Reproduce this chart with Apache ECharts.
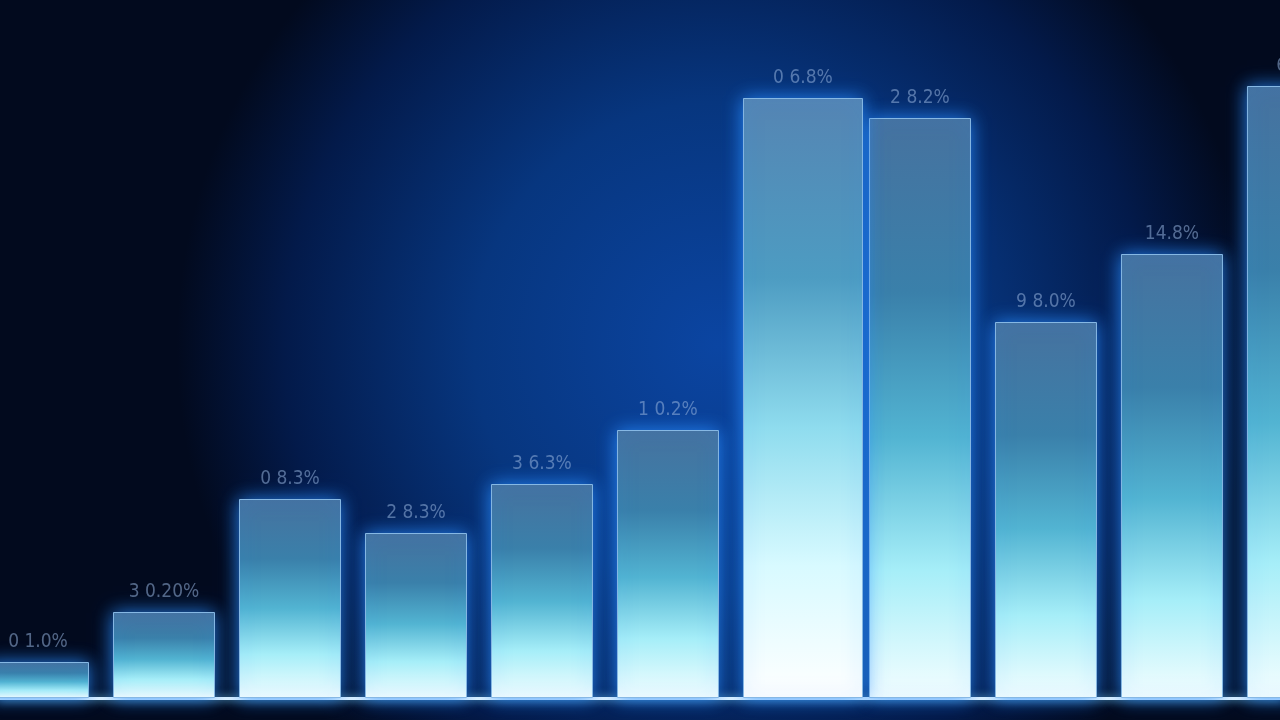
<!DOCTYPE html>
<html><head><meta charset="utf-8">
<script src="https://cdn.jsdelivr.net/npm/echarts@6/dist/echarts.min.js"></script>
<style>html,body{margin:0;padding:0;background:#020a1c}#c{width:1280px;height:720px}</style>
</head><body><div id="c"></div>
<script>
const categories = [0,1,2,3,4,5,6,7,8,9,10];
const values = [3.6, 8.6, 19.9, 16.5, 21.4, 26.8, 60.0, 58.0, 37.6, 44.4, 61.2];
const labels = ['0 1.0%', '3 0.20%', '0 8.3%', '2 8.3%', '3 6.3%', '1 0.2%', '0 6.8%', '2 8.2%', '9 8.0%', '14.8%', '6.6.2'];
const wideIndex = 6;

const chart = echarts.init(document.getElementById('c'));
const grad = (c)=>new echarts.graphic.LinearGradient(0,0,0,1,c);
const barGrad = grad([
  {offset:0,color:'#46729f'},{offset:0.3,color:'#3a80aa'},{offset:0.55,color:'#52b4d2'},{offset:0.78,color:'#a6eef8'},{offset:1,color:'#f4feff'}]);
const wideGrad = grad([
  {offset:0,color:'#5585b3'},{offset:0.3,color:'#4d9cc2'},{offset:0.55,color:'#8fdcee'},{offset:0.78,color:'#d8faff'},{offset:1,color:'#ffffff'}]);
const common = {
  type:'bar',barGap:'-100%',clip:false,
  itemStyle:{borderColor:'#86b8e4',borderWidth:1,shadowColor:'rgba(40,140,255,0.9)',shadowBlur:18},
  label:{show:true,position:'top',distance:10,color:'rgba(150,178,220,0.55)',fontSize:19,
    fontFamily:'DejaVu Sans Condensed, Liberation Sans Narrow, sans-serif',formatter:p=>labels[p.dataIndex]}
};
chart.setOption({
  backgroundColor:{type:'radial',x:0.56,y:0.48,r:0.75,colorStops:[
    {offset:0,color:'#0b45a2'},{offset:0.45,color:'#07367f'},{offset:0.8,color:'#031a4a'},{offset:1,color:'#020a1e'}]},
  grid:{left:0,right:0,top:0,bottom:22},
  xAxis:{type:'value',min:-0.373,max:9.786,axisLabel:{show:false},axisTick:{show:false},splitLine:{show:false},
    axisLine:{show:true,onZero:true,lineStyle:{color:'#e8f8ff',width:3,shadowColor:'#7fd8ff',shadowBlur:8}}},
  yAxis:{type:'value',min:0,max:69.8,show:false,splitLine:{show:false}},
  series:[
    Object.assign({},common,{barWidth:102,
      data:values.map((v,i)=>i===wideIndex?[categories[i],null]:[categories[i],v]),
      itemStyle:Object.assign({},common.itemStyle,{color:barGrad})}),
    Object.assign({},common,{barWidth:120,
      data:values.map((v,i)=>i===wideIndex?[categories[i],v]:[categories[i],null]),
      itemStyle:Object.assign({},common.itemStyle,{color:wideGrad})})
  ]
});
</script></body></html>
